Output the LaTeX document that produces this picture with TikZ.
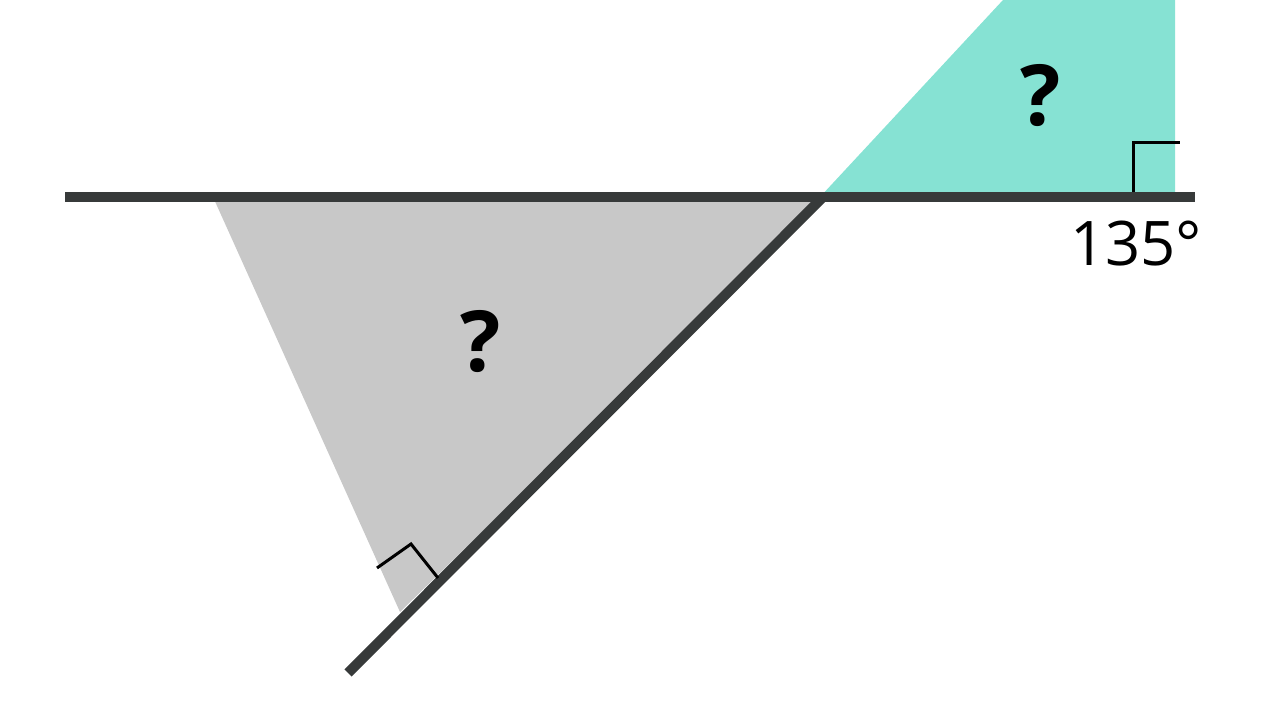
\documentclass[tikz,border=0pt]{standalone}
\usepackage{fontspec}
\setmainfont{Open Sans}
\usetikzlibrary{calc}

\definecolor{tealfill}{RGB}{134,226,211}
\definecolor{grayfill}{RGB}{200,200,200}
\definecolor{linegray}{RGB}{55,58,58}

\tikzset{
	mainline/.style={line width=2.85pt, linegray},
	rightmark/.style={line width=0.85pt, black},
	qmark/.style={font=\fontsize{24}{28}\selectfont\bfseries},
}

\begin{document}
\begin{tikzpicture}
			\useasboundingbox (0,0) rectangle (12.8,7.2);

			\coordinate (O) at (8.23,5.23);
			\coordinate (L) at (0.65,5.23);
			\coordinate (R) at (11.95,5.23);
			\coordinate (D) at (3.48,0.47);

			% shaded regions
			\begin{scope}
				\fill[tealfill] (8.2,5.23) -- (10.03,7.2) -- (11.75,7.2) -- (11.75,5.23) -- cycle;
				\fill[grayfill] (2.13,5.23) -- (O) -- (4.0,1.08) -- cycle;
			\end{scope}

			% lines
			\begin{scope}[mainline]
				\draw (L) -- (R);
				\draw (O) -- (D);
			\end{scope}

			% right angles
			\begin{scope}[rightmark]
				\draw (11.33,5.28) -- (11.33,5.77) -- (11.80,5.77);
				\draw (3.77,1.52) -- (4.11,1.76) -- (4.38,1.42);
			\end{scope}

			\node[qmark] (q1) at (10.41,6.24) {?};
			\node[qmark] (q2) at (4.81,3.78) {?};
			\node[font=\fontsize{17.5}{20}\selectfont] (ang) at (11.36,4.76) {135°};
		\end{tikzpicture}
\end{document}
